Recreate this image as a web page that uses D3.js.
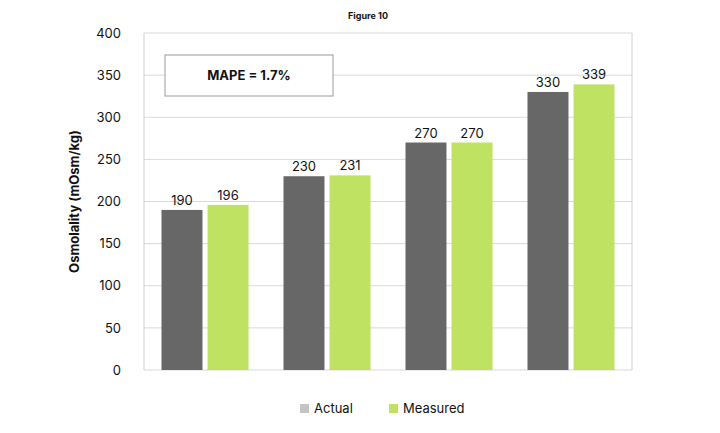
<!DOCTYPE html>
<html lang="en">
<head>
  <meta charset="UTF-8">
  <title>Figure 10</title>
  <script src="https://d3js.org/d3.v7.min.js"></script>
  <style>
    body { margin: 0; background: #fff; }
    svg text { font-family: Inter, "Liberation Sans", Arial, sans-serif; fill: #111; }
    .grid line { stroke: #d9d9d9; }
    .bar-label { font-size: 13px; }
  </style>
</head>
<body>
  <div id="chart"></div>
  <script>
    // data
    const groups = ["G1", "G2", "G3", "G4"];
    const series = ["Actual", "Measured"];
    const actual = [190, 230, 270, 330];
    const measured = [196, 231, 270, 339];
    const yTicks = [0, 50, 100, 150, 200, 250, 300, 350, 400];
    const seriesColors = ["#676767", "#bfe262"];
    const legendColors = ["#c4c4c4", "#bfe262"];

    const width = 720, height = 433;
    const margin = {top: 33, right: 88, bottom: 63, left: 144};
    const innerW = width - margin.left - margin.right;
    const innerH = height - margin.top - margin.bottom;

    const rows = groups.map((g, i) => ({group: g, values: [actual[i], measured[i]]}));

    const svg = d3.select("#chart").append("svg")
      .attr("width", width)
      .attr("height", height);

    svg.append("text")
      .attr("x", 368)
      .attr("y", 19)
      .attr("text-anchor", "middle")
      .style("font-size", "9px")
      .style("font-weight", "bold")
      .text("Figure 10");

    const g = svg.append("g")
      .attr("transform", `translate(${margin.left},${margin.top})`);

    const x0 = d3.scaleBand().domain(groups).range([0, innerW]).padding(0);
    const x1 = d3.scaleBand().domain(series).range([0, x0.bandwidth()])
      .paddingInner(0.11).paddingOuter(0.38);
    const y = d3.scaleLinear().domain([0, 400]).range([innerH, 0]);

    // gridlines
    g.append("g").attr("class", "grid")
      .selectAll("line")
      .data(yTicks)
      .join("line")
      .attr("x1", 0).attr("x2", innerW)
      .attr("y1", d => y(d)).attr("y2", d => y(d));

    // side borders
    g.append("line").attr("x1", 0).attr("x2", 0).attr("y1", 0).attr("y2", innerH)
      .attr("stroke", "#d0d0d0");
    g.append("line").attr("x1", innerW).attr("x2", innerW).attr("y1", 0).attr("y2", innerH)
      .attr("stroke", "#d0d0d0");

    // y axis labels
    const yAxis = g.append("g")
      .call(d3.axisLeft(y).tickValues(yTicks).tickSize(0).tickPadding(23));
    yAxis.select(".domain").remove();
    yAxis.selectAll("text")
      .style("font-size", "13px")
      .style("font-family", "Inter, 'Liberation Sans', Arial, sans-serif")
      .attr("fill", "#111");

    svg.append("text")
      .attr("transform", `translate(79,${margin.top + innerH / 2}) rotate(-90)`)
      .attr("text-anchor", "middle")
      .style("font-size", "13px")
      .style("font-weight", "bold")
      .text("Osmolality (mOsm/kg)");

    // bars
    const grp = g.selectAll(".grp")
      .data(rows)
      .join("g")
      .attr("transform", d => `translate(${x0(d.group)},0)`);

    grp.selectAll("rect")
      .data(d => d.values.map((v, i) => ({key: series[i], value: v, idx: i})))
      .join("rect")
      .attr("x", d => x1(d.key))
      .attr("y", d => y(d.value))
      .attr("width", x1.bandwidth())
      .attr("height", d => innerH - y(d.value))
      .attr("fill", d => seriesColors[d.idx]);

    grp.selectAll(".bar-label")
      .data(d => d.values.map((v, i) => ({key: series[i], value: v})))
      .join("text")
      .attr("class", "bar-label")
      .attr("x", d => x1(d.key) + x1.bandwidth() / 2)
      .attr("y", d => y(d.value) - 5)
      .attr("text-anchor", "middle")
      .text(d => d.value);

    // MAPE box
    g.append("rect")
      .attr("x", 21).attr("y", 22)
      .attr("width", 168).attr("height", 41)
      .attr("fill", "#fff")
      .attr("stroke", "#9a9a9a");
    g.append("text")
      .attr("x", 105).attr("y", 47)
      .attr("text-anchor", "middle")
      .style("font-size", "13px")
      .style("font-weight", "bold")
      .text("MAPE = 1.7%");

    // legend
    const legendX = [300, 389];
    const legend = svg.selectAll(".legend")
      .data(series)
      .join("g")
      .attr("transform", (d, i) => `translate(${legendX[i]},404)`);
    legend.append("rect")
      .attr("width", 9).attr("height", 9)
      .attr("fill", (d, i) => legendColors[i]);
    legend.append("text")
      .attr("x", 14).attr("y", 9)
      .style("font-size", "13px")
      .text(d => d);
  </script>
</body>
</html>
